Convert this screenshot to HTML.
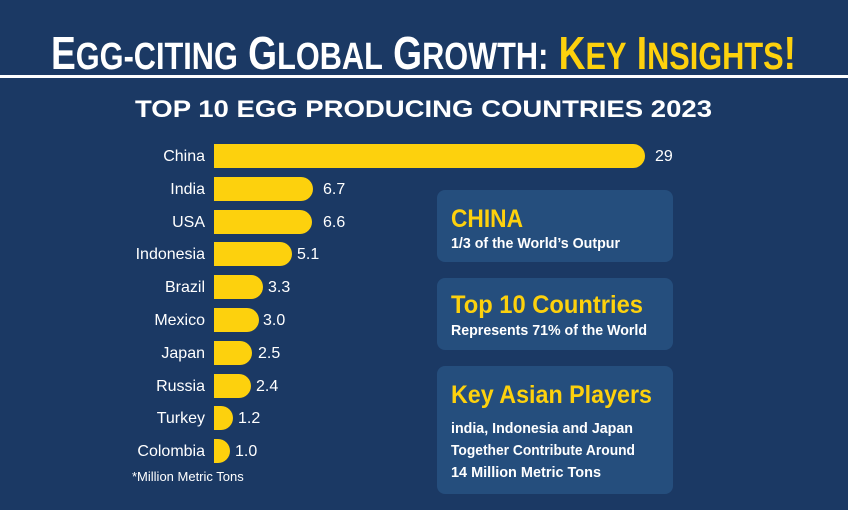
<!DOCTYPE html>
<html><head><meta charset="utf-8"><style>
body{margin:0;width:848px;height:510px;background:#1b3964;position:relative;overflow:hidden;font-family:"Liberation Sans",sans-serif;}
.line{position:absolute;left:0;top:75px;width:848px;height:3px;background:#fff}
.lab{position:absolute;right:643px;font-size:16px;color:#fff;line-height:24px;}
.bar{position:absolute;left:214px;height:24px;background:#fdd10d;border-radius:0 12px 12px 0}
.val{position:absolute;font-size:16px;color:#fff;line-height:24px}
.box{position:absolute;left:437px;width:236px;background:#254e7d;border-radius:8px}
svg{position:absolute;left:0;top:0}
</style></head><body>
<div class="line"></div>

<div class="lab" style="top:145px">China</div><div class="bar" style="top:144px;width:431px"></div><div class="val" style="top:145px;left:655px">29</div>
<div class="lab" style="top:178px">India</div><div class="bar" style="top:177px;width:99px"></div><div class="val" style="top:178px;left:323px">6.7</div>
<div class="lab" style="top:211px">USA</div><div class="bar" style="top:210px;width:98px"></div><div class="val" style="top:211px;left:323px">6.6</div>
<div class="lab" style="top:243px">Indonesia</div><div class="bar" style="top:242px;width:78px"></div><div class="val" style="top:243px;left:297px">5.1</div>
<div class="lab" style="top:276px">Brazil</div><div class="bar" style="top:275px;width:49px"></div><div class="val" style="top:276px;left:268px">3.3</div>
<div class="lab" style="top:309px">Mexico</div><div class="bar" style="top:308px;width:45px"></div><div class="val" style="top:309px;left:263px">3.0</div>
<div class="lab" style="top:342px">Japan</div><div class="bar" style="top:341px;width:38px"></div><div class="val" style="top:342px;left:258px">2.5</div>
<div class="lab" style="top:375px">Russia</div><div class="bar" style="top:374px;width:37px"></div><div class="val" style="top:375px;left:256px">2.4</div>
<div class="lab" style="top:407px">Turkey</div><div class="bar" style="top:406px;width:19px"></div><div class="val" style="top:407px;left:238px">1.2</div>
<div class="lab" style="top:440px">Colombia</div><div class="bar" style="top:439px;width:16px"></div><div class="val" style="top:440px;left:235px">1.0</div>
<div style="position:absolute;left:132px;top:469px;font-size:13px;color:#fff">*Million Metric Tons</div>

<div class="box" style="top:190px;height:72px"></div>
<div class="box" style="top:278px;height:72px"></div>
<div class="box" style="top:366px;height:128px"></div>

<svg width="848" height="510" font-family="Liberation Sans, sans-serif" font-weight="bold">
<text x="51" y="69" font-size="46" fill="#fff" textLength="745" lengthAdjust="spacingAndGlyphs">E<tspan font-size="38">GG-CITING</tspan> G<tspan font-size="38">LOBAL</tspan> G<tspan font-size="38">ROWTH:</tspan> <tspan fill="#fdd10d">K<tspan font-size="38">EY</tspan> I<tspan font-size="38">NSIGHTS</tspan>!</tspan></text>
<text x="135" y="117" font-size="24" fill="#fff" textLength="577" lengthAdjust="spacingAndGlyphs">TOP 10 EGG PRODUCING COUNTRIES 2023</text>
<g fill="#fdd10d" font-size="25">
<text x="451" y="227" textLength="72" lengthAdjust="spacingAndGlyphs">CHINA</text>
<text x="451" y="313" textLength="192" lengthAdjust="spacingAndGlyphs">Top 10 Countries</text>
<text x="451" y="403" textLength="201" lengthAdjust="spacingAndGlyphs">Key Asian Players</text>
</g>
<g fill="#fff" font-size="15">
<text x="451" y="248" textLength="169" lengthAdjust="spacingAndGlyphs">1/3 of the World’s Outpur</text>
<text x="451" y="335" textLength="196" lengthAdjust="spacingAndGlyphs">Represents 71% of the World</text>
<text x="451" y="433" textLength="182" lengthAdjust="spacingAndGlyphs">india, Indonesia and Japan</text>
<text x="451" y="455" textLength="184" lengthAdjust="spacingAndGlyphs">Together Contribute Around</text>
<text x="451" y="477" textLength="150" lengthAdjust="spacingAndGlyphs">14 Million Metric Tons</text>
</g>
</svg>
</body></html>
